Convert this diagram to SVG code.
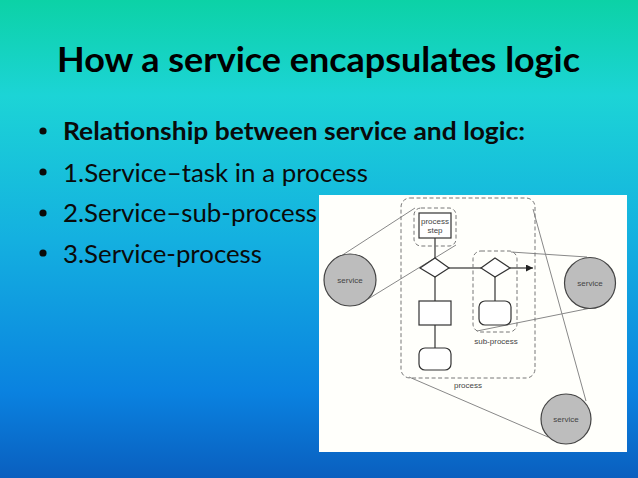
<svg xmlns="http://www.w3.org/2000/svg" width="638" height="478" viewBox="0 0 638 478">
<defs>
<linearGradient id="bg" x1="0" y1="0" x2="0" y2="1">
<stop offset="0" stop-color="#0cd2a6"/>
<stop offset="0.2" stop-color="#1cd4d6"/>
<stop offset="0.5" stop-color="#14b0e0"/>
<stop offset="0.82" stop-color="#0a82e0"/>
<stop offset="1" stop-color="#0a5fbf"/>
</linearGradient>
<marker id="arr" viewBox="0 0 10 10" refX="10" refY="5" markerWidth="7" markerHeight="7" orient="auto" markerUnits="userSpaceOnUse">
<path d="M0,0 L10,5 L0,10 z" fill="#222"/>
</marker>
<style>
.title{font-family:Lato,"Open Sans",sans-serif;font-weight:bold;font-size:35px;fill:#000}
.bul{font-family:Lato,"Open Sans",sans-serif;font-size:25px;fill:#0a0a0a}
.b{font-weight:bold}
.dash{fill:none;stroke:#777;stroke-width:1;stroke-dasharray:4 2.5}
.shape{fill:#fff;stroke:#333;stroke-width:1.2}
.flow{fill:none;stroke:#333;stroke-width:1.2}
.tan{fill:none;stroke:#888;stroke-width:1}
.svc{fill:#bdbdbd;stroke:#444;stroke-width:1.2}
.lbl{font-family:"Liberation Sans",Arial,sans-serif;font-size:8px;fill:#444;text-anchor:middle}
</style>
</defs>
<rect x="0" y="0" width="638" height="478" fill="url(#bg)"/>
<text class="title" x="57" y="72" textLength="523" lengthAdjust="spacingAndGlyphs">How a service encapsulates logic</text>
<g id="bullets">
<circle cx="43" cy="131" r="3.6" fill="#0a0a0a"/>
<circle cx="43" cy="172" r="3.6" fill="#0a0a0a"/>
<circle cx="43" cy="213" r="3.6" fill="#0a0a0a"/>
<circle cx="43" cy="253" r="3.6" fill="#0a0a0a"/>
<text class="bul b" x="63" y="140" textLength="462" lengthAdjust="spacingAndGlyphs">Relationship between service and logic:</text>
<text class="bul" x="63" y="182" textLength="305" lengthAdjust="spacingAndGlyphs">1.Service–task in a process</text>
<text class="bul" x="63" y="222" textLength="254" lengthAdjust="spacingAndGlyphs">2.Service–sub-process</text>
<text class="bul" x="63" y="263" textLength="199" lengthAdjust="spacingAndGlyphs">3.Service-process</text>
</g>
<rect x="319" y="195" width="308" height="257" fill="#fffffb"/>
<g id="connectors">
<line class="tan" x1="341" y1="256" x2="415" y2="208"/>
<line class="tan" x1="368" y1="299" x2="456" y2="245"/>
<line class="tan" x1="511" y1="252" x2="587" y2="257"/>
<line class="tan" x1="477" y1="331" x2="591" y2="308"/>
<line class="tan" x1="533" y1="209" x2="586" y2="401"/>
<line class="tan" x1="409" y1="377" x2="548" y2="437"/>
<line class="flow" x1="435" y1="238" x2="435" y2="258"/>
<line class="flow" x1="435" y1="277" x2="435" y2="301"/>
<line class="flow" x1="435" y1="325" x2="435" y2="348"/>
<line class="flow" x1="449" y1="268" x2="481" y2="268"/>
<line class="flow" x1="510" y1="268" x2="533" y2="268" marker-end="url(#arr)"/>
<line class="flow" x1="495" y1="277" x2="495" y2="301"/>
</g>
<g id="process">
<rect class="dash" x="401" y="198" width="134" height="180" rx="9"/>
<text class="lbl" x="468" y="388">process</text>
</g>
<g id="process-step-group">
<rect class="dash" x="414" y="208" width="42" height="38" rx="7"/>
</g>
<g id="process-step">
<rect class="shape" x="419" y="213" width="32" height="25"/>
<text class="lbl" x="435" y="224">process</text>
<text class="lbl" x="435" y="233">step</text>
</g>
<g id="decision1"><path class="shape" d="M420,268 L435,258 L449,268 L435,277 Z"/></g>
<g id="task"><rect class="shape" x="419" y="301" width="32" height="24"/></g>
<g id="end1"><rect class="shape" x="419" y="348" width="32" height="22" rx="6"/></g>
<g id="sub-process">
<rect class="dash" x="473" y="251" width="44" height="81" rx="8"/>
<text class="lbl" x="496" y="344">sub-process</text>
</g>
<g id="decision2"><path class="shape" d="M481,268 L495,258 L510,268 L495,277 Z"/></g>
<g id="end2"><rect class="shape" x="479" y="301" width="32" height="24" rx="6"/></g>
<g id="service-left">
<circle class="svc" cx="350" cy="280" r="26"/>
<text class="lbl" x="350" y="283">service</text>
</g>
<g id="service-right">
<circle class="svc" cx="590" cy="283" r="25.5"/>
<text class="lbl" x="590" y="286">service</text>
</g>
<g id="service-bottom">
<circle class="svc" cx="566" cy="419" r="25"/>
<text class="lbl" x="566" y="422">service</text>
</g>
</svg>
